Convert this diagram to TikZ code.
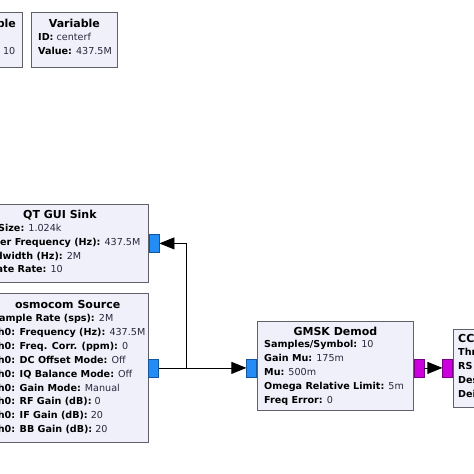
\documentclass[tikz,border=0pt]{standalone}
\usepackage{fontspec}
\setmainfont{DejaVu Sans}
\usetikzlibrary{arrows.meta,shapes}

\definecolor{blockfill}{RGB}{240,240,251}
\definecolor{blockline}{RGB}{96,96,104}
\definecolor{portblue}{RGB}{35,140,245}
\definecolor{portblueline}{RGB}{20,85,160}
\definecolor{portmag}{RGB}{204,0,220}
\definecolor{portmagline}{RGB}{120,0,130}
\definecolor{valgray}{RGB}{40,40,60}

\begin{document}
\begin{tikzpicture}[x=1pt,y=-1pt,
    every node/.style={inner sep=0pt,minimum size=0pt},
    blk/.style={draw=blockline,fill=blockfill,line width=0.8pt,anchor=north west},
    ttl/.style={font=\fontsize{11}{13}\selectfont\bfseries,text height=8pt,text depth=2pt},
    prm/.style={anchor=west,font=\fontsize{9.6}{11}\selectfont,text height=7pt,text depth=2pt,text=valgray},
    bport/.style={draw=portblueline,fill=portblue,line width=0.6pt,minimum width=10pt,minimum height=18pt},
    mport/.style={draw=portmagline,fill=portmag,line width=0.6pt,minimum width=10pt,minimum height=18pt},
    flow/.style={draw=black,line width=0.8pt,-{Triangle[length=15pt,width=12pt]}}]
    \useasboundingbox (0,0) rectangle (474,474);
    \clip (0,0) rectangle (474,474);
    \fill[white] (0,0) rectangle (474,474);

    % blocks
    \node(var1)[blk,minimum width=64pt,minimum height=55pt] at (-42,12) {};
    \node(var2)[blk,minimum width=86pt,minimum height=55pt] at (31,12) {};
    \node(sink)[blk,minimum width=177pt,minimum height=78pt] at (-29,204) {};
    \node(osmo)[blk,minimum width=160.5pt,minimum height=149pt] at (-13,293) {};
    \node(gmsk)[blk,minimum width=156pt,minimum height=89pt] at (257,321) {};
    \node(ccsds)[blk,minimum width=80pt,minimum height=78pt] at (453,329) {};

    % ports
    \node(sinkin)[bport,anchor=west] at (sink.east) {};
    \node(osmoout)[bport,anchor=west] at (osmo.east) {};
    \node(gmskin)[bport,anchor=east] at (osmoout.center -| gmsk.west) {};
    \node(gmskout)[mport,anchor=west] at (osmoout.center -| gmsk.east) {};
    \node(ccsdsin)[mport,anchor=east] at (osmoout.center -| ccsds.west) {};

    % variables
    \node(v1t)[ttl] at ([yshift=-12pt]var1.north) {Variable};
    \node(v1a)[prm] at ([xshift=7pt,yshift=-26pt]var1.north west) {\textbf{\color{black}ID:} sps};
    \node(v1b)[prm] at ([yshift=-14pt]v1a.west) {\textbf{\color{black}Value:} 10};

    \node(v2t)[ttl] at ([yshift=-12pt]var2.north) {Variable};
    \node(v2a)[prm] at ([xshift=7pt,yshift=-26pt]var2.north west) {\textbf{\color{black}ID:} centerf};
    \node(v2b)[prm] at ([yshift=-14pt]v2a.west) {\textbf{\color{black}Value:} 437.5M};

    % qt gui sink
    \node(st)[ttl] at ([yshift=-11pt]sink.north) {QT GUI Sink};
    \node(s1)[prm] at ([xshift=4pt,yshift=-25pt]sink.north west) {\textbf{\color{black}FFT Size:} 1.024k};
    \node(s2)[prm] at ([yshift=-13.8pt]s1.west) {\textbf{\color{black}Center Frequency (Hz):} 437.5M};
    \node(s3)[prm] at ([yshift=-13.8pt]s2.west) {\textbf{\color{black}Bandwidth (Hz):} 2M};
    \node(s4)[prm] at ([yshift=-13.8pt]s3.west) {\textbf{\color{black}Update Rate:} 10};

    % osmocom source
    \node(ot)[ttl] at ([yshift=-12pt]osmo.north) {osmocom Source};
    \node(o1)[prm] at ([xshift=5pt,yshift=-26pt]osmo.north west) {\textbf{\color{black}Sample Rate (sps):} 2M};
    \node(o2)[prm] at ([yshift=-13.9pt]o1.west) {\textbf{\color{black}ch0: Frequency (Hz):} 437.5M};
    \node(o3)[prm] at ([yshift=-13.9pt]o2.west) {\textbf{\color{black}ch0: Freq. Corr. (ppm):} 0};
    \node(o4)[prm] at ([yshift=-13.9pt]o3.west) {\textbf{\color{black}ch0: DC Offset Mode:} Off};
    \node(o5)[prm] at ([yshift=-13.9pt]o4.west) {\textbf{\color{black}ch0: IQ Balance Mode:} Off};
    \node(o6)[prm] at ([yshift=-13.9pt]o5.west) {\textbf{\color{black}ch0: Gain Mode:} Manual};
    \node(o7)[prm] at ([yshift=-13.9pt]o6.west) {\textbf{\color{black}ch0: RF Gain (dB):} 0};
    \node(o8)[prm] at ([yshift=-13.9pt]o7.west) {\textbf{\color{black}ch0: IF Gain (dB):} 20};
    \node(o9)[prm] at ([yshift=-13.9pt]o8.west) {\textbf{\color{black}ch0: BB Gain (dB):} 20};

    % gmsk demod
    \node(gt)[ttl] at ([yshift=-11.5pt]gmsk.north) {GMSK Demod};
    \node(g1)[prm] at ([xshift=7pt,yshift=-24pt]gmsk.north west) {\textbf{\color{black}Samples/Symbol:} 10};
    \node(g2)[prm] at ([yshift=-14pt]g1.west) {\textbf{\color{black}Gain Mu:} 175m};
    \node(g3)[prm] at ([yshift=-14pt]g2.west) {\textbf{\color{black}Mu:} 500m};
    \node(g4)[prm] at ([yshift=-14pt]g3.west) {\textbf{\color{black}Omega Relative Limit:} 5m};
    \node(g5)[prm] at ([yshift=-14pt]g4.west) {\textbf{\color{black}Freq Error:} 0};

    % ccsds block, cut by the right edge
    \node(ct)[ttl,anchor=west] at ([xshift=5pt,yshift=-10pt]ccsds.north west) {CCSDS Deframer};
    \node(c1)[prm] at ([xshift=5pt,yshift=-23.5pt]ccsds.north west) {\textbf{\color{black}Threshold:} 4};
    \node(c2)[prm] at ([yshift=-14pt]c1.west) {\textbf{\color{black}RS Basis:} Dual};
    \node(c3)[prm] at ([yshift=-14pt]c2.west) {\textbf{\color{black}Descrambler:} Yes};
    \node(c4)[prm] at ([yshift=-14pt]c3.west) {\textbf{\color{black}Deinterleave:} 1};

    % connections
    \coordinate(tap) at ([xshift=27pt]osmoout.east);
    \path[flow](osmoout.east) -- (gmskin.west);
    \path[flow](tap) |- (sinkin.east);
    \path[flow](gmskout.east) -- (ccsdsin.west);

  \end{tikzpicture}
\end{document}
